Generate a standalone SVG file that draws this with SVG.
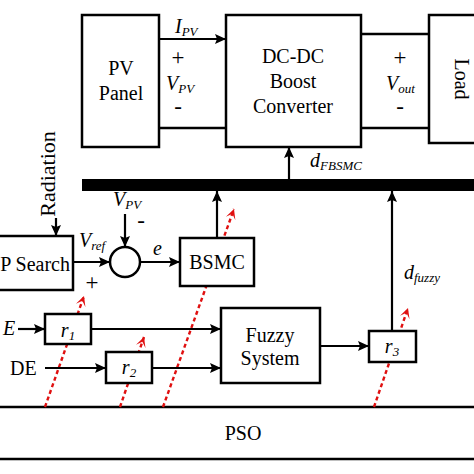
<svg xmlns="http://www.w3.org/2000/svg" width="474" height="474" viewBox="0 0 474 474" font-family="'Liberation Serif', 'DejaVu Serif', serif">
<style>
text{font-family:'Liberation Serif','DejaVu Serif',serif;font-size:20px;fill:#000}
.i{font-style:italic}
.s{font-size:13px;font-style:italic}
.m{text-anchor:middle}
.pm{font-size:23px;text-anchor:middle}
.box{fill:#fff;stroke:#000;stroke-width:2.5}
.ln{fill:none;stroke:#000;stroke-width:2.5}
.ar{fill:none;stroke:#000;stroke-width:2.2;marker-end:url(#ah)}
.rd{fill:none;stroke:#e01010;stroke-width:2.4;stroke-dasharray:4 3;marker-end:url(#rh)}
</style>
<defs>
<marker id="ah" markerUnits="userSpaceOnUse" markerWidth="12" markerHeight="10" refX="11" refY="5" orient="auto">
<path d="M0,0 L11,5 L0,10 L2,5 Z" fill="#000"/>
</marker>
<marker id="rh" markerUnits="userSpaceOnUse" markerWidth="12" markerHeight="12" refX="10" refY="6" orient="auto">
<path d="M0,1 L10,6 L0,11 L5,6 Z" fill="#e01010"/>
</marker>
</defs>

<g id="pso-lines">
<line class="ln" x1="0" y1="407" x2="474" y2="407"/>
<line class="ln" x1="0" y1="459" x2="474" y2="459"/>
</g>

<g id="pso-tuning">
<line class="rd" x1="45" y1="407" x2="84" y2="296"/>
<line class="rd" x1="120" y1="407" x2="144" y2="337"/>
<line class="rd" x1="163" y1="407" x2="234" y2="209"/>
<line class="rd" x1="374" y1="407" x2="408" y2="308"/>
</g>

<g id="pv-panel">
<rect class="box" x="82" y="15" width="77" height="132"/>
<text class="m" x="121" y="75">PV</text>
<text class="m" x="121" y="100">Panel</text>
</g>

<g id="converter">
<rect class="box" x="226" y="15" width="135" height="132"/>
<text class="m" x="293" y="63">DC-DC</text>
<text class="m" x="293" y="88">Boost</text>
<text class="m" x="293" y="113">Converter</text>
</g>

<g id="load">
<rect class="box" x="429" y="15" width="60" height="128"/>
<text class="m" transform="translate(455,79) rotate(90)">Load</text>
</g>

<g id="bus">
<rect x="82" y="179" width="392" height="12" fill="#000"/>
</g>

<g id="mpp-search">
<rect class="box" x="-5" y="236" width="78" height="54"/>
<text x="70" y="271" style="text-anchor:end">P Search</text>
</g>

<g id="sum">
<circle cx="125" cy="262" r="15" fill="#fff" stroke="#000" stroke-width="2.5"/>
</g>

<g id="bsmc">
<rect class="box" x="180" y="238" width="74" height="48"/>
<text class="m" x="217" y="269">BSMC</text>
</g>

<g id="r1">
<rect class="box" x="45" y="314" width="46" height="30"/>
<text class="m" x="68" y="337"><tspan class="i">r</tspan><tspan class="s" dy="3">1</tspan></text>
</g>

<g id="r2">
<rect class="box" x="106" y="352" width="46" height="31"/>
<text class="m" x="129" y="374"><tspan class="i">r</tspan><tspan class="s" dy="3">2</tspan></text>
</g>

<g id="fuzzy">
<rect class="box" x="221" y="308" width="99" height="75"/>
<text class="m" x="270" y="342">Fuzzy</text>
<text class="m" x="270" y="365">System</text>
</g>

<g id="r3">
<rect class="box" x="369" y="331" width="47" height="31"/>
<text class="m" x="392" y="353"><tspan class="i">r</tspan><tspan class="s" dy="3">3</tspan></text>
</g>

<g id="connectors">
<line class="ar" x1="159" y1="39" x2="226" y2="39"/>
<line class="ln" x1="159" y1="128" x2="226" y2="128"/>
<line class="ln" x1="361" y1="34" x2="429" y2="34"/>
<line class="ln" x1="361" y1="128" x2="429" y2="128"/>
<line class="ar" x1="289" y1="179" x2="289" y2="147"/>
<line class="ar" x1="56" y1="218" x2="56" y2="236"/>
<line class="ar" x1="125" y1="214" x2="125" y2="247"/>
<line class="ar" x1="73" y1="262" x2="110" y2="262"/>
<line class="ar" x1="140" y1="262" x2="180" y2="262"/>
<line class="ar" x1="217" y1="238" x2="217" y2="191"/>
<line class="ar" x1="392" y1="331" x2="392" y2="191"/>
<line class="ar" x1="18" y1="329" x2="45" y2="329"/>
<line class="ar" x1="91" y1="329" x2="221" y2="329"/>
<line class="ar" x1="45" y1="368" x2="106" y2="368"/>
<line class="ar" x1="152" y1="368" x2="221" y2="368"/>
<line class="ar" x1="320" y1="346" x2="369" y2="346"/>
</g>

<g id="labels">
<text x="175" y="33"><tspan class="i">I</tspan><tspan class="s" dy="3">PV</tspan></text>
<text class="pm" x="178" y="65">+</text>
<text x="166" y="90"><tspan class="i">V</tspan><tspan class="s" dy="3">PV</tspan></text>
<text class="pm" x="178" y="114">-</text>
<text class="pm" x="400" y="65">+</text>
<text x="386" y="90"><tspan class="i">V</tspan><tspan class="s" dy="3">out</tspan></text>
<text class="pm" x="400" y="114">-</text>
<text x="310" y="167"><tspan class="i">d</tspan><tspan class="s" dy="3">FBSMC</tspan></text>
<text class="m" transform="translate(55,174) rotate(-90)" style="font-size:22px">Radiation</text>
<text x="113" y="206"><tspan class="i">V</tspan><tspan class="s" dy="3">PV</tspan></text>
<text class="pm" x="141" y="228">-</text>
<text x="79" y="247"><tspan class="i">V</tspan><tspan class="s" dy="3">ref</tspan></text>
<text class="i" x="153" y="255">e</text>
<text class="pm" x="92" y="290">+</text>
<text class="i" x="3" y="335">E</text>
<text x="10" y="375">DE</text>
<text x="404" y="279"><tspan class="i">d</tspan><tspan class="s" dy="3">fuzzy</tspan></text>
<text class="m" x="243" y="440">PSO</text>
</g>
</svg>
